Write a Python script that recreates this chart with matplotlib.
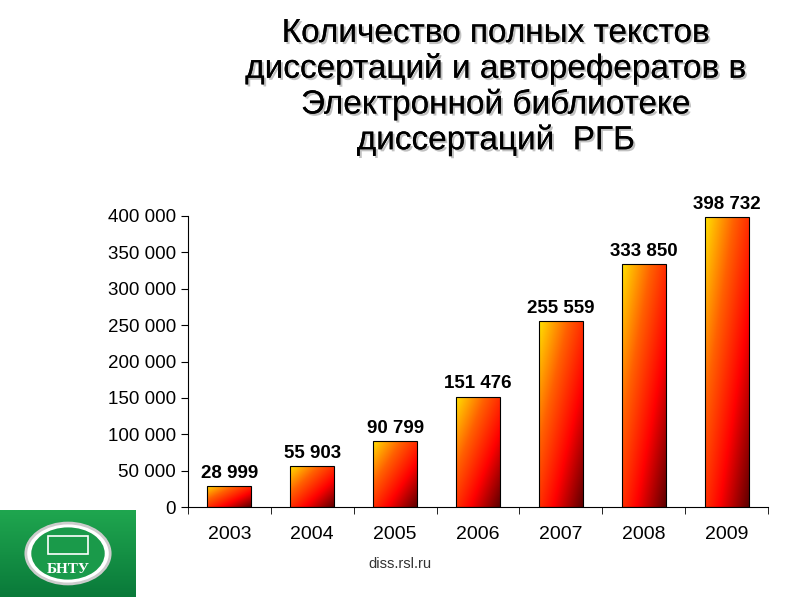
import matplotlib
matplotlib.use("Agg")
import matplotlib.pyplot as plt
import numpy as np
from matplotlib.patches import Ellipse, Rectangle
import matplotlib.patheffects as pe

years = ["2003", "2004", "2005", "2006", "2007", "2008", "2009"]
values = [28999, 55903, 90799, 151476, 255559, 333850, 398732]
yticks = [0, 50000, 100000, 150000, 200000, 250000, 300000, 350000, 400000]

def fmt(v):
    return f"{v:,}".replace(",", " ")

plt.rcParams['font.family'] = ['Liberation Sans', 'DejaVu Sans']
fig = plt.figure(figsize=(8, 6), dpi=100)
fig.text(0.62, 0.97, "Количество полных текстов\nдиссертаций и авторефератов в\nЭлектронной библиотеке\nдиссертаций  РГБ",
         ha='center', va='top', fontsize=24, linespacing=1.15,
         path_effects=[pe.withSimplePatchShadow(offset=(1.5, -1.5), shadow_rgbFace='#999999', alpha=0.6), pe.Normal()])

ax = fig.add_axes([0.235, 0.155, 0.725, 0.485])

from matplotlib.colors import LinearSegmentedColormap
cmap = LinearSegmentedColormap.from_list("g", ["#ffe000", "#ff6000", "#ff0000", "#600000"])
yy, xx = np.mgrid[0:1:100j, 0:1:100j]
grad = (xx + (1 - yy)) / 2

w = 0.53
for i, v in enumerate(values):
    r = Rectangle((i - w / 2, 0), w, v, facecolor='none', edgecolor='black', lw=0.8, zorder=3)
    ax.add_patch(r)
    im = ax.imshow(grad, cmap=cmap, extent=(i - w / 2, i + w / 2, 0, v), origin='lower',
                   aspect='auto', zorder=2)
    im.set_clip_path(r)
    ax.text(i, v + 6000, fmt(v), ha='center', va='bottom', fontsize=13.5, fontweight='bold')

ax.set_aspect('auto')
ax.set_xlim(-0.5, len(years) - 0.5)
ax.set_ylim(0, 400000)
ax.set_yticks(yticks)
ax.set_yticklabels([fmt(t) for t in yticks], fontsize=13.5)
ax.set_xticks(range(len(years)))
ax.set_xticklabels(years, fontsize=14)
ax.set_xticks(np.arange(-0.5, len(years)), minor=True)
ax.tick_params(axis='x', which='major', length=0, pad=14)
ax.tick_params(axis='x', which='minor', length=5, direction='out')
ax.tick_params(axis='y', length=5, direction='out')
for s in ['top', 'right']:
    ax.spines[s].set_visible(False)

fig.text(0.5, 0.06, "diss.rsl.ru", ha='center', va='center', fontsize=10.5, color='#333333')

# logo
lax = fig.add_axes([0, 0.005, 0.17, 0.145])
lax.set_xlim(0, 1); lax.set_ylim(0, 1); lax.axis('off')
lg = np.linspace(0, 1, 50).reshape(-1, 1)
lax.imshow(lg, cmap=LinearSegmentedColormap.from_list("gr", ["#0a7a3a", "#1fa64f"]),
           extent=(0, 1, 0, 1), origin='lower', aspect='auto')
lax.add_patch(Ellipse((0.5, 0.5), 0.62, 0.7, facecolor='white', edgecolor='#cccccc', lw=2))
lax.add_patch(Ellipse((0.5, 0.5), 0.54, 0.6, facecolor='#1a9a4a', edgecolor='none'))
lax.text(0.5, 0.32, "БНТУ", ha='center', va='center', color='white', fontsize=11,
         fontweight='bold', family=['Liberation Serif', 'DejaVu Serif'])
lax.add_patch(Rectangle((0.35, 0.5), 0.3, 0.2, facecolor='none', edgecolor='white', lw=1.2))

fig.savefig("out.png", dpi=100)
